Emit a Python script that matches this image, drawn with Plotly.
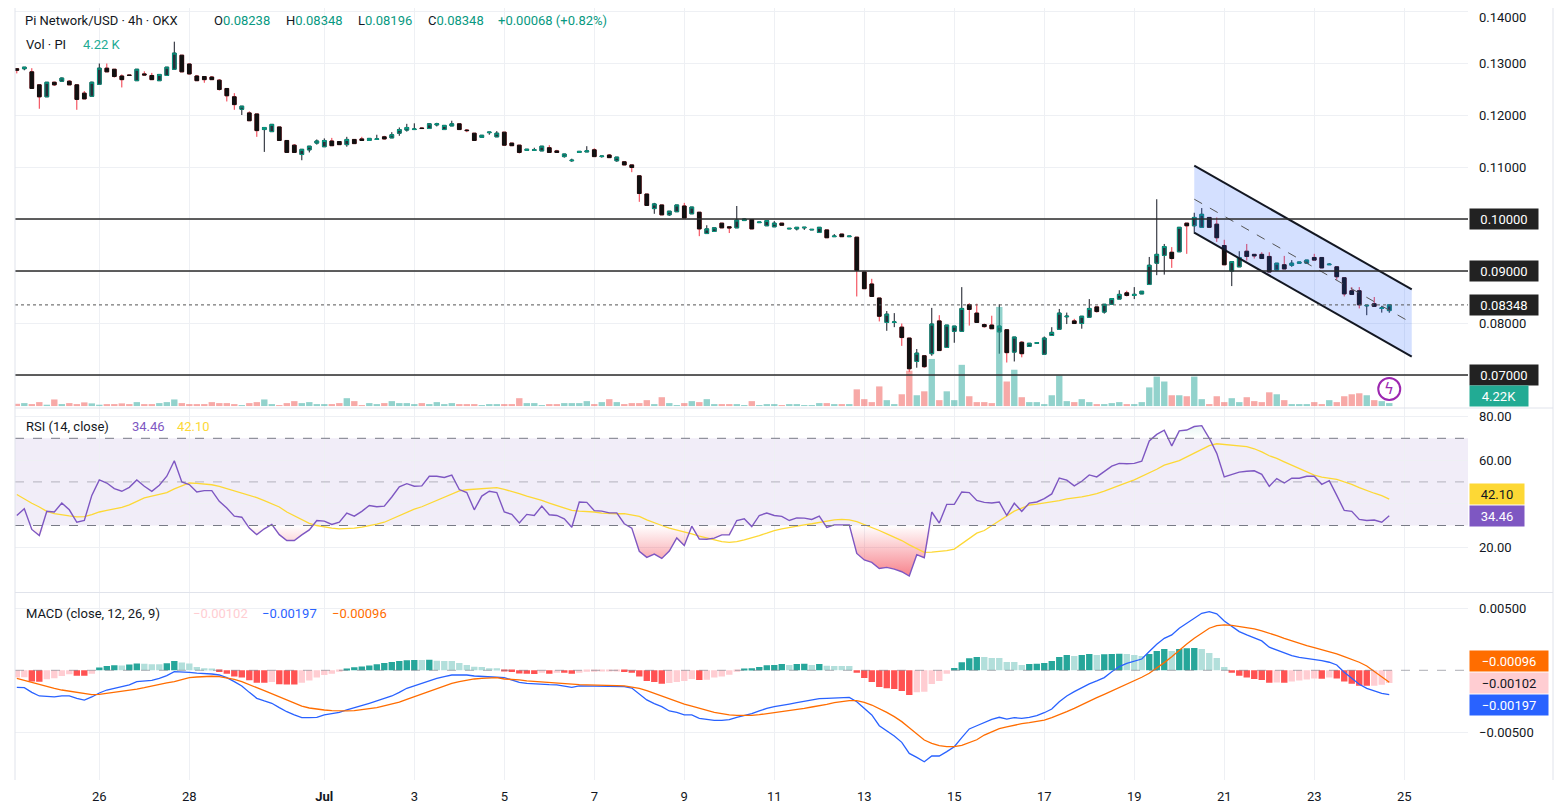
import numpy as np
import pandas as pd
import plotly.graph_objs as go

# Pi Network/USD, 4h candles from Jun 24 04:00 (prices in 1e-4 USD)
start = "2025-06-24 04:00"

open_ = [1289, 1289, 1283, 1258, 1235, 1263, 1265, 1265, 1258, 1242,
         1236, 1259, 1290, 1288, 1275, 1277, 1266, 1279, 1276, 1266,
         1276, 1288, 1315, 1298, 1275, 1274, 1273, 1267, 1251, 1235,
         1211, 1204, 1202, 1172, 1168, 1177, 1151, 1142, 1124, 1133,
         1146, 1139, 1150, 1149, 1143, 1153, 1154, 1151, 1153, 1158,
         1156, 1165, 1171, 1172, 1175, 1174, 1181, 1172, 1179, 1183,
         1171, 1165, 1157, 1166, 1158, 1167, 1146, 1142, 1132, 1132,
         1131, 1137, 1131, 1120, 1112, 1128, 1129, 1133, 1120, 1123,
         1112, 1110, 1104, 1083, 1048, 1020, 1027, 1008, 1014, 1025,
         1010, 1013, 972, 976, 992, 985, 983, 997, 999, 993,
         987, 985, 992, 981, 981, 983, 979, 974, 979, 966,
         971, 966, 965, 898, 875, 848, 801, 801, 792, 771,
         726, 737, 741, 804, 753, 784, 784, 835, 819, 797,
         796, 783, 787, 744, 763, 755, 761, 740, 776, 788,
         812, 804, 799, 811, 831, 821, 836, 846, 858, 853,
         856, 874, 915, 930, 936, 937, 992, 987, 984, 1003,
         990, 949, 900, 908, 938, 932, 932, 928, 902, 912,
         911, 915, 915, 926, 926, 912, 908, 887, 862, 862,
         833, 837, 828, 823.8]
high = [1290, 1292, 1290, 1258, 1263, 1264, 1272, 1267, 1258, 1246,
        1264, 1299, 1299, 1288, 1278, 1277, 1288, 1284, 1281, 1278,
        1292, 1341, 1315, 1299, 1277, 1274, 1275, 1269, 1251, 1242,
        1217, 1207, 1202, 1176, 1182, 1177, 1151, 1144, 1134, 1140,
        1153, 1155, 1156, 1149, 1158, 1153, 1158, 1155, 1162, 1160,
        1167, 1176, 1183, 1184, 1176, 1184, 1185, 1180, 1189, 1183,
        1173, 1165, 1161, 1167, 1169, 1167, 1146, 1142, 1134, 1137,
        1140, 1142, 1133, 1125, 1116, 1130, 1140, 1136, 1121, 1125,
        1119, 1110, 1104, 1083, 1048, 1031, 1027, 1015, 1027, 1031,
        1023, 1013, 988, 983, 992, 985, 1025, 1001, 999, 994,
        997, 996, 992, 982, 984, 984, 980, 984, 979, 971,
        971, 967, 965, 898, 885, 848, 823, 819, 799, 771,
        750, 737, 829, 815, 796, 794, 869, 838, 837, 799,
        814, 836, 787, 773, 765, 761, 763, 774, 792, 827,
        820, 808, 813, 846, 831, 836, 847, 863, 862, 869,
        861, 927, 1038, 952, 946, 984, 992, 1012, 1021, 1003,
        1003, 960, 918, 938, 952, 932, 936, 936, 915, 929,
        921, 917, 921, 933, 926, 915, 908, 887, 869, 869,
        834, 850, 833, 834.8]
low = [1280, 1286, 1251, 1212, 1235, 1256, 1265, 1258, 1210, 1231,
       1236, 1259, 1283, 1272, 1253, 1276, 1266, 1277, 1268, 1266,
       1276, 1288, 1283, 1278, 1266, 1262, 1268, 1247, 1226, 1210,
       1200, 1189, 1158, 1129, 1168, 1151, 1128, 1128, 1113, 1128,
       1143, 1139, 1141, 1143, 1139, 1145, 1151, 1151, 1153, 1153,
       1156, 1160, 1168, 1172, 1174, 1174, 1178, 1172, 1179, 1172,
       1167, 1151, 1157, 1162, 1158, 1141, 1141, 1126, 1132, 1132,
       1131, 1128, 1128, 1118, 1110, 1128, 1129, 1120, 1118, 1118,
       1110, 1104, 1090, 1033, 1026, 1010, 1008, 1006, 1014, 1002,
       1010, 967, 972, 976, 983, 973, 983, 997, 981, 993,
       987, 985, 988, 981, 978, 979, 979, 974, 964, 966,
       966, 966, 851, 866, 851, 803, 785, 792, 756, 706,
       714, 714, 737, 747, 753, 762, 784, 795, 801, 791,
       789, 741, 724, 726, 734, 755, 761, 740, 776, 788,
       798, 799, 789, 811, 820, 818, 836, 846, 851, 846,
       856, 874, 892, 893, 906, 937, 933, 972, 984, 984,
       956, 912, 871, 908, 920, 924, 924, 898, 902, 904,
       908, 915, 915, 921, 906, 912, 883, 851, 855, 828,
       815, 832, 820, 819.6]
close = [1286, 1292, 1251, 1235, 1263, 1258, 1271, 1258, 1230, 1231,
         1263, 1290, 1283, 1274, 1268, 1276, 1288, 1277, 1268, 1278,
         1292, 1319, 1283, 1279, 1266, 1268, 1268, 1249, 1237, 1220,
         1217, 1189, 1170, 1176, 1182, 1151, 1128, 1128, 1134, 1140,
         1150, 1151, 1141, 1143, 1153, 1145, 1151, 1155, 1154, 1154,
         1162, 1172, 1176, 1173, 1174, 1183, 1183, 1180, 1183, 1172,
         1170, 1151, 1161, 1167, 1165, 1142, 1141, 1128, 1134, 1133,
         1140, 1128, 1128, 1125, 1113, 1130, 1131, 1120, 1121, 1118,
         1119, 1104, 1099, 1049, 1026, 1029, 1008, 1015, 1027, 1002,
         1023, 981, 981, 983, 983, 983, 998, 1000, 981, 994,
         997, 992, 988, 982, 984, 984, 980, 984, 964, 967,
         966, 967, 901, 866, 851, 813, 817, 802, 772, 712,
         742, 716, 798, 747, 796, 794, 828, 826, 801, 793,
         789, 794, 743, 773, 741, 761, 762, 771, 782, 819,
         813, 799, 813, 828, 822, 836, 847, 855, 853, 855,
         861, 911, 932, 947, 924, 984, 987, 1003, 1009, 984,
         964, 912, 918, 926, 928, 929, 924, 898, 915, 904,
         915, 917, 921, 921, 906, 913, 889, 856, 855, 835,
         834, 832, 829, 834.8]
# volume in thousands of PI
volume = [3.2, 4.2, 2.8, 5.6, 1.9, 9.4, 2.8, 4.2, 2.8, 5.2,
          3.8, 1.9, 2.8, 2.8, 3.8, 2.8, 5.6, 2.8, 2.8, 4.2,
          5.6, 9.4, 4.2, 2.8, 2.8, 2.8, 5.6, 4.2, 4.2, 2.8,
          1.4, 4.2, 5.6, 9.4, 2.8, 1.4, 4.2, 7.0, 4.2, 5.6,
          2.8, 2.8, 2.8, 4.2, 11.2, 7.0, 1.4, 4.2, 2.8, 4.2,
          7.0, 4.2, 4.2, 2.8, 4.2, 2.8, 5.6, 2.8, 4.2, 2.8,
          2.8, 2.8, 1.4, 2.8, 2.8, 2.8, 2.8, 11.2, 4.2, 4.2,
          1.4, 2.8, 2.8, 4.2, 4.2, 4.2, 7.0, 2.8, 5.6, 9.8,
          5.6, 2.8, 4.2, 4.2, 8.4, 2.8, 12.6, 4.2, 1.4, 4.2,
          7.0, 5.6, 9.8, 2.8, 2.8, 2.8, 2.8, 1.4, 7.0, 1.4,
          2.8, 2.8, 1.4, 2.8, 2.8, 1.4, 1.4, 4.2, 4.2, 2.8,
          2.8, 2.8, 23.8, 9.8, 5.6, 28.0, 8.4, 2.8, 16.8, 50.4,
          15.4, 21.0, 67.2, 8.4, 21.0, 8.4, 58.8, 14.0, 5.6, 5.6,
          4.2, 141.4, 35.0, 51.8, 12.6, 5.6, 5.6, 2.8, 15.4, 43.4,
          7.0, 5.6, 9.8, 5.6, 2.8, 2.8, 4.2, 5.6, 2.8, 2.8,
          5.6, 26.6, 42.0, 35.0, 15.4, 15.4, 14.0, 42.0, 9.8, 2.8,
          14.0, 5.6, 11.2, 5.6, 12.6, 7.0, 5.6, 19.6, 16.8, 8.4,
          2.8, 2.8, 2.8, 5.6, 2.8, 8.4, 5.6, 14.0, 16.8, 18.2,
          15.4, 8.4, 7.0, 4.22]

rsi = [34.6, 37.7, 28.2, 25.4, 36.5, 36.2, 40.3, 37.2, 31.5, 32.3,
       43.8, 50.9, 49.5, 46.9, 45.7, 47.5, 50.9, 48.0, 45.7, 48.5,
       52.6, 59.7, 50.0, 48.8, 45.4, 46.0, 46.0, 41.1, 38.0, 34.3,
       33.8, 28.8, 25.8, 28.5, 30.5, 25.8, 23.1, 23.1, 25.7, 28.0,
       32.3, 32.0, 30.5, 31.5, 35.7, 34.3, 36.5, 39.2, 38.6, 38.9,
       43.1, 47.7, 49.2, 48.0, 48.2, 52.6, 52.6, 52.0, 53.1, 46.5,
       45.1, 37.2, 43.5, 45.7, 45.1, 36.2, 35.1, 31.2, 35.1, 34.6,
       38.9, 34.9, 34.6, 33.1, 29.2, 40.8, 40.6, 36.8, 36.6, 35.8,
       35.8, 30.8, 28.8, 18.2, 15.4, 16.9, 14.9, 18.3, 24.3, 20.8,
       29.7, 23.8, 23.7, 24.2, 25.7, 25.7, 32.3, 33.1, 29.5, 34.6,
       35.7, 34.6, 34.2, 32.3, 33.5, 33.4, 32.8, 34.3, 29.1, 30.3,
       30.3, 30.3, 17.2, 14.2, 13.1, 10.3, 10.8, 10.0, 8.8, 6.8,
       16.6, 15.2, 36.2, 31.1, 39.7, 39.7, 45.4, 45.1, 41.5, 40.6,
       40.3, 40.8, 34.6, 40.2, 36.5, 40.3, 40.8, 42.3, 44.5, 51.8,
       50.8, 48.2, 50.3, 53.2, 52.3, 54.9, 57.2, 58.5, 58.3, 58.5,
       59.5, 68.8, 71.8, 73.7, 66.5, 73.4, 73.8, 75.4, 75.8, 70.0,
       63.1, 52.3, 53.4, 54.5, 54.9, 55.1, 53.5, 48.0, 51.5, 49.5,
       51.7, 51.7, 52.6, 52.6, 48.9, 50.6, 43.8, 36.9, 36.5, 32.8,
       32.3, 32.5, 31.5, 34.46]
rsi_ma = [44.2, 42.0, 40.2, 38.5, 36.5, 35.4, 34.8, 34.4, 34.0, 34.1,
          35.0, 36.2, 36.9, 37.5, 38.3, 39.5, 41.2, 42.7, 43.5, 44.4,
          45.1, 46.8, 48.3, 49.5, 49.3, 49.0, 48.7, 48.0, 47.0, 45.9,
          44.8, 43.8, 42.8, 41.4, 40.0, 38.5, 36.2, 34.5, 32.5, 31.0,
          30.0, 29.3, 28.8, 28.5, 28.5, 28.8, 29.3, 29.9, 30.6, 31.5,
          33.0, 34.6, 36.0, 37.5, 38.6, 40.0, 41.5, 43.0, 44.5, 45.9,
          46.4, 46.6, 46.8, 47.2, 47.4, 46.6, 45.7, 44.6, 43.5, 42.6,
          41.5, 40.3, 39.2, 38.0, 36.9, 36.6, 36.5, 36.2, 35.7, 35.4,
          35.4, 35.4, 34.9, 34.2, 32.6, 31.2, 30.0, 28.8, 28.0, 26.9,
          26.2, 25.1, 24.2, 23.4, 22.6, 22.3, 22.6, 23.4, 24.3, 25.4,
          26.5, 27.7, 28.5, 29.2, 29.7, 30.3, 30.8, 31.5, 32.2, 32.6,
          32.8, 32.6, 31.8, 30.5, 29.2, 27.7, 26.2, 24.6, 23.1, 21.1,
          19.5, 17.7, 17.8, 18.0, 18.5, 19.2, 21.5, 23.8, 26.5, 27.7,
          30.0, 32.3, 34.6, 36.6, 38.0, 39.4, 39.8, 40.3, 40.8, 41.4,
          42.2, 42.5, 43.1, 43.8, 44.6, 45.8, 47.2, 48.5, 49.7, 50.9,
          52.5, 54.2, 55.8, 57.7, 58.9, 59.8, 61.5, 63.1, 64.9, 66.6,
          67.5, 67.2, 66.9, 66.6, 66.2, 65.2, 63.8, 62.0, 60.8, 59.2,
          57.7, 56.2, 54.6, 53.1, 52.2, 51.8, 51.2, 50.0, 48.9, 47.4,
          46.0, 44.8, 43.7, 42.1]

# MACD (12, 26, 9), values in 1e-5
macd = [-137, -140, -178, -207, -210, -215, -207, -207, -226, -240,
        -215, -183, -159, -145, -137, -118, -91, -86, -81, -65,
        -43, -11, -11, -16, -22, -24, -30, -38, -59, -91,
        -126, -178, -226, -247, -266, -301, -334, -360, -382, -382,
        -379, -360, -350, -339, -320, -304, -288, -266, -247, -226,
        -207, -178, -145, -126, -105, -83, -65, -51, -38, -38,
        -38, -46, -51, -54, -56, -59, -78, -97, -105, -110,
        -113, -116, -118, -129, -137, -126, -126, -126, -126, -126,
        -126, -132, -143, -194, -239, -269, -293, -328, -339, -360,
        -360, -387, -398, -404, -404, -398, -379, -366, -350, -328,
        -307, -293, -280, -272, -261, -250, -239, -229, -226, -223,
        -221, -218, -253, -307, -360, -447, -490, -530, -581, -670,
        -702, -737, -691, -691, -656, -616, -543, -473, -447, -420,
        -395, -379, -393, -382, -387, -379, -366, -342, -312, -253,
        -207, -172, -140, -110, -86, -59, -11, 30, 56, 75,
        91, 151, 210, 258, 285, 339, 379, 420, 460, 473,
        455, 398, 352, 312, 285, 264, 237, 186, 164, 137,
        118, 105, 97, 91, 78, 65, 43, -16, -65, -113,
        -145, -167, -186, -197]
signal = [-65, -81, -100, -118, -132, -145, -159, -167, -178, -188,
          -196, -194, -186, -178, -172, -159, -151, -140, -126, -113,
          -102, -91, -75, -59, -54, -48, -48, -51, -59, -73,
          -91, -113, -140, -164, -188, -215, -240, -264, -288, -304,
          -315, -320, -325, -328, -328, -325, -320, -309, -301, -288,
          -274, -256, -234, -213, -188, -167, -145, -124, -105, -91,
          -78, -70, -65, -62, -59, -70, -73, -78, -86, -91,
          -94, -100, -105, -110, -113, -116, -118, -118, -121, -124,
          -124, -126, -135, -145, -164, -186, -207, -231, -250, -272,
          -288, -307, -323, -339, -350, -360, -363, -366, -363, -358,
          -350, -342, -334, -325, -315, -307, -296, -288, -274, -261,
          -253, -245, -245, -258, -280, -307, -339, -374, -414, -463,
          -514, -562, -589, -608, -616, -616, -605, -585, -560, -522,
          -495, -471, -457, -441, -430, -422, -412, -401, -382, -360,
          -334, -307, -277, -247, -221, -194, -167, -140, -113, -86,
          -56, -24, 16, 62, 110, 164, 212, 258, 299, 339,
          360, 366, 363, 355, 344, 334, 317, 301, 280, 258,
          237, 218, 199, 183, 167, 151, 132, 110, 89, 65,
          35, -11, -51, -96]
hist = [-59, -57, -91, -92, -73, -65, -46, -32, -43, -44,
        -27, 22, 35, 40, 39, 46, 54, 53, 49, 48,
        56, 75, 62, 54, 27, 16, 8, -13, -27, -51,
        -59, -81, -100, -101, -94, -113, -114, -115, -100, -83,
        -59, -38, -27, -11, 13, 24, 30, 38, 48, 59,
        67, 75, 82, 84, 83, 85, 78, 75, 74, 59,
        43, 28, 27, 17, 16, -3, -13, -25, -27, -29,
        -19, -27, -19, -20, -27, -19, -12, -11, -10, -4,
        -3, -13, -19, -51, -86, -94, -108, -102, -94, -86,
        -70, -78, -76, -59, -51, -35, -11, 11, 16, 27,
        40, 43, 51, 43, 50, 52, 43, 51, 36, 35,
        35, 34, -19, -62, -94, -135, -145, -151, -167, -199,
        -178, -172, -110, -86, -27, 19, 65, 97, 108, 107,
        100, 99, 67, 66, 43, 51, 52, 59, 75, 108,
        124, 116, 124, 132, 124, 130, 132, 134, 132, 124,
        116, 132, 156, 172, 156, 172, 178, 180, 172, 140,
        100, 27, -19, -43, -59, -70, -78, -100, -99, -101,
        -91, -83, -75, -67, -68, -59, -67, -91, -108, -124,
        -125, -124, -116, -102]

tick_dates = ["2025-06-26", "2025-06-28", "2025-07-01", "2025-07-03", "2025-07-05",
              "2025-07-07", "2025-07-09", "2025-07-11", "2025-07-13", "2025-07-15",
              "2025-07-17", "2025-07-19", "2025-07-21", "2025-07-23", "2025-07-25"]
tick_labels = ["26", "28", "<b>Jul</b>", "3", "5", "7", "9", "11", "13", "15", "17", "19", "21", "23", "25"]
price_ticks = [0.07, 0.08, 0.09, 0.10, 0.11, 0.12, 0.13, 0.14]

levels = [0.10, 0.09, 0.07]
last_price = 0.08348
channel_t = ["2025-07-20 08:00", "2025-07-25 04:00"]
channel_top = [0.11025, 0.08648]
channel_mid = [0.10381, 0.08000]
channel_bot = [0.09737, 0.07352]

GRID = "#eef0f4"
TEAL = "#089981"
RED = "#f23645"
DARK = "#131722"
FONT = "Roboto, Arial, sans-serif"

t = pd.date_range(start, periods=len(close), freq="4h")
o = np.array(open_) / 1e4
h = np.array(high) / 1e4
l = np.array(low) / 1e4
c = np.array(close) / 1e4
up = c >= o
body_hi = np.maximum(o, c)
body_lo = np.minimum(o, c)
bar_w = 4 * 3600 * 1000 * 0.85

vol_col = np.where(up, "rgba(38,166,154,0.5)", "rgba(239,83,80,0.5)")
hist_col = []
for i, v in enumerate(hist):
    prev = hist[i - 1] if i else v - 1
    if v >= 0:
        hist_col.append("#26a69a" if v > prev else "#b2dfdb")
    else:
        hist_col.append("#ffcdd2" if v > prev else "#ff5252")

rsi_a = np.array(rsi)
macd_a = np.array(macd) / 1e5
signal_a = np.array(signal) / 1e5
hist_a = np.array(hist) / 1e5

traces = [
    go.Bar(x=t, y=volume, yaxis="y4", marker=dict(color=vol_col, line=dict(width=0)),
           width=bar_w, hoverinfo="skip"),
    go.Scatter(x=[channel_t[0], channel_t[1], channel_t[1], channel_t[0], channel_t[0]],
               y=[channel_top[0], channel_top[1], channel_bot[1], channel_bot[0], channel_top[0]],
               fill="toself", fillcolor="rgba(41,98,255,0.2)", mode="lines",
               line=dict(width=0), hoverinfo="skip"),
    go.Scatter(x=channel_t, y=channel_top, mode="lines", line=dict(color=DARK, width=2), hoverinfo="skip"),
    go.Scatter(x=channel_t, y=channel_bot, mode="lines", line=dict(color=DARK, width=2), hoverinfo="skip"),
    go.Scatter(x=channel_t, y=channel_mid, mode="lines", line=dict(color="#555", width=1, dash="dash"),
               hoverinfo="skip"),
    # wicks: black on up candles, red on down candles
    go.Candlestick(x=t, open=o, high=h, low=l, close=c, whiskerwidth=0,
                   increasing=dict(line=dict(color=DARK, width=1), fillcolor=DARK),
                   decreasing=dict(line=dict(color=RED, width=1), fillcolor=RED),
                   hoverinfo="skip"),
    # bodies
    go.Candlestick(x=t, open=o, high=body_hi, low=body_lo, close=c, whiskerwidth=0,
                   increasing=dict(line=dict(color=TEAL, width=1), fillcolor="#2a2e39"),
                   decreasing=dict(line=dict(color="#111111", width=1), fillcolor="#111111")),
    # RSI panel
    go.Scatter(x=t, y=np.full(len(t), 30.0), yaxis="y2", mode="lines", line=dict(width=0),
               hoverinfo="skip"),
    go.Scatter(x=t, y=np.minimum(rsi_a, 30), yaxis="y2", mode="lines", line=dict(width=0),
               fill="tonexty",
               fillgradient=dict(type="vertical", start=0, stop=30,
                                 colorscale=[[0, "rgba(242,54,69,0.8)"], [1, "rgba(242,54,69,0.0)"]]),
               hoverinfo="skip"),
    go.Scatter(x=t, y=np.full(len(t), 70.0), yaxis="y2", mode="lines", line=dict(width=0),
               hoverinfo="skip"),
    go.Scatter(x=t, y=np.maximum(rsi_a, 70), yaxis="y2", mode="lines", line=dict(width=0),
               fill="tonexty",
               fillgradient=dict(type="vertical", start=70, stop=100,
                                 colorscale=[[0, "rgba(8,153,129,0.0)"], [1, "rgba(8,153,129,0.5)"]]),
               hoverinfo="skip"),
    go.Scatter(x=t, y=rsi_ma, yaxis="y2", mode="lines", line=dict(color="#fdd835", width=1.3)),
    go.Scatter(x=t, y=rsi_a, yaxis="y2", mode="lines", line=dict(color="#7e57c2", width=1.4)),
    # MACD panel
    go.Bar(x=t, y=hist_a, yaxis="y3", marker=dict(color=hist_col, line=dict(width=0)), width=bar_w),
    go.Scatter(x=t, y=macd_a, yaxis="y3", mode="lines", line=dict(color="#2962ff", width=1.3)),
    go.Scatter(x=t, y=signal_a, yaxis="y3", mode="lines", line=dict(color="#ff6d00", width=1.3)),
]

# the page body keeps an 8px margin, so the figure is laid out in page pixels
# with the plot area spanning x 15..1468 and y 8..780
PLOT_W = 1453.0
PLOT_BOTTOM = 780.0
PLOT_H = 772.0


def px_x(v):
    return (v - 15) / PLOT_W


def px_y(v):
    return (PLOT_BOTTOM - v) / PLOT_H


shapes = []
for lv in levels:
    shapes.append(dict(type="line", xref="paper", x0=0, x1=1, yref="y", y0=lv, y1=lv,
                       line=dict(color="#2a2a2a", width=1.6)))
shapes.append(dict(type="line", xref="paper", x0=0, x1=1, yref="y", y0=last_price, y1=last_price,
                   line=dict(color="#555", width=1, dash="dot")))
shapes.append(dict(type="rect", xref="paper", x0=0, x1=1, yref="y2", y0=30, y1=70,
                   fillcolor="rgba(126,87,194,0.11)", line=dict(width=0), layer="below"))
for lv, op in [(70, 1.0), (50, 0.5), (30, 1.0)]:
    shapes.append(dict(type="line", xref="paper", x0=0, x1=1, yref="y2", y0=lv, y1=lv, opacity=op,
                       line=dict(color="#787b86", width=1, dash="dash")))
shapes.append(dict(type="line", xref="paper", x0=0, x1=1, yref="y3", y0=0, y1=0, opacity=0.6,
                   line=dict(color="#787b86", width=1, dash="dash")))
for sep in [408, 592.5]:
    shapes.append(dict(type="line", xref="paper", x0=0, x1=px_x(1553), yref="paper",
                       y0=px_y(sep), y1=px_y(sep), line=dict(color="#e0e3eb", width=1)))
shapes.append(dict(type="line", xref="paper", x0=px_x(1553), x1=px_x(1553), yref="paper",
                   y0=0, y1=1, line=dict(color="#e0e3eb", width=1)))
shapes.append(dict(type="line", xref="paper", x0=0, x1=0, yref="paper",
                   y0=0, y1=1, line=dict(color="#e0e3eb", width=1)))
# replay icon near the last candle
shapes.append(dict(type="circle", xref="x", xsizemode="pixel", xanchor=t[-1], x0=-11, x1=11,
                   yref="paper", ysizemode="pixel", yanchor=px_y(389), y0=-11, y1=11,
                   line=dict(color="#9c27b0", width=2), fillcolor="white"))


def txt(x, y, s, color=DARK, size=13):
    return dict(xref="paper", yref="paper", x=px_x(x), y=px_y(y), xanchor="left", yanchor="middle",
                text=s, showarrow=False, font=dict(family=FONT, size=size, color=color))


def tag(s, y, yref, bg, fg, yshift=0, w=66):
    return dict(xref="paper", x=1, xanchor="left", xshift=1, yref=yref, y=y, yanchor="middle",
                yshift=yshift, text=s, showarrow=False, bgcolor=bg, borderpad=1,
                width=w, height=18, align="center", font=dict(family=FONT, size=13, color=fg))


annotations = [
    txt(23, 21, "Pi Network/USD · 4h · OKX"),
    txt(212, 21, "O<span style='color:%s'>0.08238</span>" % TEAL),
    txt(284, 21, "H<span style='color:%s'>0.08348</span>" % TEAL),
    txt(356, 21, "L<span style='color:%s'>0.08196</span>" % TEAL),
    txt(426, 21, "C<span style='color:%s'>0.08348</span>" % TEAL),
    txt(496, 21, "+0.00068 (+0.82%)", TEAL),
    txt(24, 44, "Vol · PI"),
    txt(81, 44, "4.22 K", "#22ab94"),
    txt(24, 427, "RSI (14, close)"),
    txt(130, 427, "34.46", "#7e57c2"),
    txt(175, 427, "42.10", "#fdd835"),
    txt(24, 613, "MACD (close, 12, 26, 9)"),
    txt(191, 613, "\u22120.00102", "#ffcdd2"),
    txt(260, 613, "\u22120.00197", "#2962ff"),
    txt(330, 613, "\u22120.00096", "#ff6d00"),
    # top price label sits at the very edge, keep it inside the page
    dict(xref="paper", x=1, xanchor="left", xshift=9, yref="paper", y=1, yanchor="top",
         text="%.5f" % price_ticks[-1], showarrow=False,
         font=dict(family=FONT, size=13, color=DARK)),
    tag("0.10000", 0.10, "y", "#222222", "white"),
    tag("0.09000", 0.09, "y", "#222222", "white"),
    tag("0.08348", last_price, "y", "#222222", "white"),
    tag("0.07000", 0.07, "y", "#222222", "white"),
    tag("4.22K", px_y(396), "paper", "#22ab94", "white", w=56),
    tag("42.10", 42.10, "y2", "#fdd835", DARK, yshift=5, w=52),
    tag("34.46", 34.46, "y2", "#7e57c2", "white", w=52),
    tag("\u22120.00096", -0.00096, "y3", "#ff6d00", "white", yshift=21, w=76),
    tag("\u22120.00102", -0.00102, "y3", "#ffcdd2", DARK, w=76),
    tag("\u22120.00197", -0.00197, "y3", "#2962ff", "white", yshift=-10, w=76),
    dict(xref="x", x=t[-1], yref="paper", y=px_y(389), text="\u03df", showarrow=False,
         font=dict(family="DejaVu Sans", size=15, color="#9c27b0")),
]

axis_common = dict(side="right", anchor="x", showgrid=True, gridcolor=GRID, zeroline=False,
                   showline=False, ticks="", ticklabelstandoff=10,
                   automargin=False, tickfont=dict(family=FONT, size=13, color=DARK))

layout = go.Layout(
    width=1548, height=795,
    margin=dict(l=7, r=88, t=0, b=23),
    paper_bgcolor="white", plot_bgcolor="white",
    font=dict(family=FONT, size=13, color=DARK),
    showlegend=False, hovermode=False,
    xaxis=dict(type="date", range=["2025-06-24 03:02", "2025-07-26 10:00"],
               tickvals=tick_dates, ticktext=tick_labels, showgrid=True, gridcolor=GRID,
               zeroline=False, showline=False, anchor="y3", rangeslider=dict(visible=False),
               ticks="", ticklabelstandoff=7, automargin=False,
               tickfont=dict(family=FONT, size=13, color=DARK)),
    yaxis=dict(domain=[px_y(408), 1], range=[0.063654, 0.140577],
               tickvals=price_ticks,
               ticktext=["%.5f" % v for v in price_ticks[:-1]] + [""],
               **axis_common),
    yaxis4=dict(overlaying="y", range=[-2.8, 568], visible=False),
    yaxis2=dict(domain=[px_y(592.5), px_y(408)], range=[-0.73, 83.9],
                tickvals=[20, 40, 60, 80], ticktext=["20.00", "", "60.00", "80.00"],
                **axis_common),
    yaxis3=dict(domain=[0, px_y(592.5)], range=[-0.008847, 0.006274],
                tickvals=[-0.005, 0.005], ticktext=["\u22120.00500", "0.00500"],
                **axis_common),
    shapes=shapes,
    annotations=annotations,
)

fig = go.Figure(data=traces, layout=layout)
fig.write_html("out.html")
